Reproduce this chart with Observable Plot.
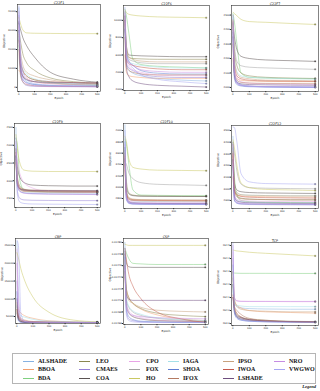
<!DOCTYPE html>
<html><head><meta charset="utf-8">
<script src="https://cdn.jsdelivr.net/npm/d3@7"></script>
<script src="https://cdn.jsdelivr.net/npm/@observablehq/plot@0.6"></script>
<style>
body{margin:0;background:#fff;}
#root{position:relative;width:320px;height:391px;overflow:hidden;background:#fff;}
#legend{position:absolute;left:12px;top:353px;width:304px;height:31px;border:0.6px solid #b5b5b5;box-sizing:border-box;}
.sw{position:absolute;height:0;border-top:1px solid;width:11px;}
.lt{position:absolute;font:bold 6px "Liberation Serif",serif;color:#111;white-space:nowrap;line-height:6px;}
#legtitle{position:absolute;right:4px;top:384px;font:italic bold 4.5px "Liberation Serif",serif;color:#111;}
</style></head><body><div id="root"><div id="legend"></div><div id="legtitle">Legend</div></div>
<script>
const algorithms = ["ALSHADE","BBOA","BDA","LEO","CMAES","COA","CPO","FOX","HO","IAGA","SHOA","IFOX","IPSO","IWOA","LSHADE","NRO","VWGWO"];
const colors = ["#86b2e2","#f2a06e","#7fd07f","#8a8650","#9580d8","#5a5252","#e8a4e6","#a2a2a2","#c9c862","#a4e0e8","#5f7ed2","#b47a62","#c8a27e","#c45a4c","#6e4e7e","#c68ce2","#a6a6f2"];
const epochs = [1, 10, 25, 50, 100, 200, 350, 500];
const xTicks = [0, 100, 200, 300, 400, 500];
const titles = ["C22F1","C22F6","C22F7","C22F9","C22F10","C22F12","CBP","CSP","TCP"];

const ticksF1 = [0, 10000, 20000, 30000, 40000];
const ticksF6 = [2000, 4000, 6000, 8000, 10000];
const ticksF7 = [2000, 2100, 2200, 2300, 2400, 2500];
const ticksF9 = [2500, 3000, 3500, 4000, 4500];
const ticksF10 = [2800, 3000, 3200, 3400, 3600, 3800, 4000];
const ticksF12 = [2900, 3000, 3100, 3200, 3300, 3400, 3500];
const ticksCBP = [50000, 100000, 150000, 200000, 250000];
const ticksCSP = [0.01266, 0.01268, 0.0127, 0.01272, 0.01274, 0.01276, 0.01278, 0.0128];
const ticksTCP = [263.9, 264.0, 264.1, 264.2, 264.3, 264.4, 264.5];

// rows follow the order of `algorithms`; columns follow `epochs`
const C22F1 = [
[42000,15000,6000,3000,1500,800,500,400],
[9000,8000,6000,4500,3000,2000,1500,1200],
[22000,14000,9000,6000,4000,2500,1500,1000],
[30000,25000,18000,13000,9000,5000,3000,2200],
[38000,10000,3000,1000,500,400,350,300],
[34000,31000,26500,22000,16000,8000,4300,2700],
[32000,18000,9000,5000,3000,2000,1500,1300],
[27000,12000,6000,4000,3000,2200,1800,1500],
[37000,34000,30500,28800,28600,28500,28400,28400],
[26000,16000,10000,7000,4500,3000,2200,1600],
[30000,9000,4000,2500,1500,1000,800,700],
[20000,7000,3000,1500,900,600,500,400],
[28000,20000,12000,8000,6000,4000,2500,1800],
[25000,15000,9000,6000,4000,3000,2500,2300],
[35000,12000,6000,4000,3000,2600,2400,2300],
[40000,14000,5000,2000,900,500,400,350],
[43000,20000,8000,4000,2000,1200,900,800]];
const C22F6 = [
[9500,5000,4300,3900,3600,3300,3100,3000],
[6000,4000,3600,3500,3400,3300,3300,3300],
[11300,10500,8500,5500,4900,4700,4600,4500],
[10500,6500,5700,5600,5550,5500,5500,5500],
[10500,5000,4500,4200,3800,3500,3400,3400],
[11000,7000,6000,5950,5900,5850,5800,5800],
[10000,5500,4700,4300,4000,3700,3600,3600],
[10000,6500,5500,5300,5100,5000,5000,5000],
[11200,10900,10700,10600,10500,10400,10350,10300],
[9000,6000,5200,5000,4800,4600,4500,4500],
[10000,6200,5300,4800,4200,3900,3800,3800],
[8000,4800,4200,4000,3800,3700,3700,3700],
[10500,7000,5800,5500,5300,5200,5200,5200],
[10000,5500,5000,4800,4600,4400,4300,4300],
[9000,4500,3500,3000,2700,2500,2400,2300],
[10800,6000,5200,4800,4300,4100,4000,4000],
[11500,5800,5000,4500,3700,3200,2900,2700]];
const C22F7 = [
[2420,2100,2040,2020,2010,2005,2003,2002],
[2200,2100,2060,2050,2045,2042,2040,2040],
[2510,2450,2300,2100,2070,2065,2062,2060],
[2450,2250,2150,2100,2080,2070,2065,2062],
[2400,2080,2030,2015,2008,2005,2003,2002],
[2440,2350,2260,2215,2200,2190,2185,2180],
[2430,2150,2070,2040,2030,2025,2022,2020],
[2500,2300,2180,2150,2140,2135,2130,2125],
[2520,2510,2495,2470,2455,2450,2442,2435],
[2480,2200,2110,2080,2070,2065,2060,2058],
[2380,2060,2020,2010,2005,2003,2002,2001],
[2300,2100,2050,2035,2030,2028,2027,2026],
[2470,2200,2100,2070,2060,2050,2048,2045],
[2460,2150,2080,2060,2050,2045,2043,2042],
[2350,2080,2035,2025,2020,2018,2016,2015],
[2450,2100,2030,2015,2010,2006,2004,2003],
[2500,2120,2040,2015,2008,2004,2002,2001]];
const C22F9 = [
[4500,3000,2750,2700,2680,2670,2665,2660],
[3600,2900,2750,2700,2690,2680,2675,2670],
[4200,4000,3000,2750,2700,2690,2680,2680],
[3700,3100,2850,2760,2720,2700,2690,2690],
[3800,2700,2500,2460,2450,2445,2440,2440],
[3900,3400,3100,2950,2880,2860,2850,2850],
[3800,3500,3200,2950,2800,2700,2680,2670],
[3900,3000,2800,2740,2720,2710,2705,2700],
[4300,3900,3500,3300,3270,3260,3260,3260],
[4000,2950,2780,2730,2710,2700,2700,2700],
[3700,2850,2700,2660,2640,2630,2625,2620],
[3500,2900,2760,2720,2700,2690,2685,2680],
[3900,3050,2820,2760,2740,2730,2725,2720],
[3800,2950,2790,2740,2720,2710,2705,2700],
[3700,2900,2770,2740,2730,2725,2720,2720],
[4100,3000,2700,2650,2630,2620,2615,2610],
[4200,2600,2400,2360,2345,2340,2335,2330]];
const C22F10 = [
[4100,2900,2750,2730,2720,2715,2712,2710],
[3300,2900,2800,2780,2770,2765,2762,2760],
[3850,3750,3400,2950,2860,2855,2850,2850],
[3650,3100,2900,2860,2845,2840,2838,2836],
[3600,2780,2720,2705,2700,2698,2696,2695],
[3700,3000,2880,2850,2840,2838,2836,2835],
[3500,2850,2760,2740,2735,2732,2730,2730],
[3450,3400,3250,3150,3080,3050,3040,3030],
[3900,3800,3500,3350,3320,3300,3295,3290],
[3700,3000,2800,2760,2750,2745,2742,2740],
[3800,2800,2720,2705,2700,2698,2697,2696],
[3400,2900,2800,2780,2775,2772,2770,2770],
[3600,2950,2820,2790,2780,2775,2772,2770],
[3550,2900,2780,2765,2760,2758,2756,2755],
[3500,2850,2740,2720,2715,2712,2710,2710],
[3750,2820,2730,2715,2710,2707,2705,2705],
[4000,2800,2710,2700,2697,2695,2694,2693]];
const C22F12 = [
[3450,2950,2900,2890,2885,2882,2880,2880],
[3100,2980,2950,2940,2935,2932,2930,2930],
[3300,3100,2950,2900,2890,2885,2882,2880],
[3350,3000,2940,2920,2912,2908,2905,2905],
[3200,2900,2875,2868,2865,2864,2863,2862],
[3400,3050,2990,2975,2968,2964,2962,2960],
[3300,2950,2910,2900,2895,2892,2890,2890],
[3380,3300,3150,3040,3010,3005,3002,3000],
[3420,3350,3200,3050,3010,2995,2990,2985],
[3350,3000,2960,2950,2945,2942,2940,2940],
[3250,2900,2880,2872,2870,2868,2867,2866],
[3280,2980,2930,2915,2910,2907,2905,2905],
[3320,3020,2970,2950,2945,2942,2940,2940],
[3300,2990,2950,2935,2928,2924,2922,2920],
[3250,2930,2895,2885,2880,2877,2875,2875],
[3380,2920,2885,2875,2871,2869,2868,2868],
[3530,3525,3400,3130,3060,3045,3042,3040]];
const CBP = [
[262000,120000,40000,34000,33500,33200,33100,33000],
[90000,70000,60000,52000,45000,38000,35000,34000],
[70000,45000,38000,35000,34000,33500,33200,33000],
[80000,50000,40000,36000,34500,33600,33200,33000],
[150000,40000,34000,33300,33100,33000,33000,33000],
[60000,42000,36000,34500,33800,33400,33200,33100],
[240000,100000,45000,38000,35000,34000,33500,33200],
[75000,48000,39000,36000,34500,33700,33300,33100],
[230000,215000,185000,150000,105000,62000,40000,35000],
[80000,60000,52000,48000,42000,37000,35000,34000],
[120000,38000,34000,33300,33100,33000,33000,33000],
[65000,45000,38000,35000,34000,33400,33200,33000],
[85000,55000,45000,40000,36000,34000,33400,33100],
[70000,50000,42000,37000,35000,33800,33300,33100],
[100000,45000,36000,34000,33400,33200,33100,33000],
[200000,70000,40000,36000,34000,33500,33200,33000],
[265000,250000,60000,36000,34000,33500,33200,33000]];
const CSP = [
[0.012800,0.012700,0.012680,0.012672,0.012668,0.012665,0.012664,0.012663],
[0.012740,0.012720,0.012705,0.012695,0.012685,0.012675,0.012668,0.012665],
[0.012790,0.012782,0.012772,0.012764,0.012763,0.012762,0.012762,0.012762],
[0.012780,0.012720,0.012705,0.012695,0.012686,0.012678,0.012674,0.012672],
[0.012780,0.012680,0.012668,0.012665,0.012663,0.012662,0.012662,0.012662],
[0.012785,0.012765,0.012758,0.012757,0.012757,0.012757,0.012757,0.012757],
[0.012770,0.012695,0.012682,0.012675,0.012670,0.012666,0.012664,0.012663],
[0.012760,0.012700,0.012688,0.012680,0.012674,0.012669,0.012666,0.012664],
[0.012797,0.012796,0.012795,0.012795,0.012795,0.012795,0.012795,0.012795],
[0.012765,0.012705,0.012690,0.012682,0.012676,0.012670,0.012667,0.012665],
[0.012775,0.012685,0.012672,0.012667,0.012664,0.012663,0.012662,0.012662],
[0.012750,0.012690,0.012678,0.012672,0.012668,0.012665,0.012664,0.012663],
[0.012770,0.012715,0.012700,0.012695,0.012688,0.012683,0.012681,0.012680],
[0.012790,0.012770,0.012745,0.012725,0.012703,0.012680,0.012668,0.012662],
[0.012760,0.012710,0.012702,0.012700,0.012700,0.012700,0.012700,0.012700],
[0.012760,0.012690,0.012678,0.012674,0.012672,0.012670,0.012669,0.012668],
[0.012790,0.012675,0.012665,0.012663,0.012662,0.012662,0.012662,0.012662]];
const TCP = [
[264.2,264.06,264.03,264.02,264.015,264.012,264.01,264.01],
[264.1,264.07,264.04,264.02,264.0,263.99,263.985,263.98],
[264.29,264.288,264.287,264.286,264.286,264.286,264.285,264.285],
[264.25,264.02,263.97,263.95,263.935,263.925,263.918,263.915],
[264.4,264.0,263.95,263.93,263.92,263.915,263.912,263.91],
[264.2,263.99,263.95,263.935,263.925,263.918,263.914,263.912],
[264.45,264.09,264.075,264.072,264.07,264.07,264.068,264.068],
[264.3,264.0,263.96,263.94,263.93,263.92,263.915,263.913],
[264.465,264.462,264.458,264.455,264.448,264.44,264.43,264.42],
[264.15,264.05,264.04,264.035,264.03,264.03,264.03,264.03],
[264.35,263.98,263.94,263.925,263.918,263.913,263.911,263.91],
[264.1,264.03,264.0,263.97,263.94,263.925,263.915,263.912],
[264.3,264.1,264.03,264.01,264.0,263.995,263.99,263.99],
[264.12,264.02,263.98,263.95,263.93,263.92,263.915,263.912],
[264.1,264.0,263.96,263.945,263.93,263.92,263.915,263.912],
[264.5,264.1,264.075,264.07,264.07,264.07,264.07,264.07],
[264.52,263.99,263.945,263.93,263.92,263.914,263.911,263.91]];

const root = document.getElementById("root");
const intFmt = d => String(d);

function panel(i, vals, domain, ticks, fmt, frame) {
  const [fx0, fx1, fy0, fy1] = frame;
  const mL = 18, mR = 2, mT = 7, mB = 13;
  const rows = [];
  algorithms.forEach((a, k) => vals[k].forEach((v, j) => rows.push({algo: a, epoch: epochs[j], value: v})));
  const last = rows.filter(d => d.epoch === epochs[epochs.length - 1]);
  const svg = Plot.plot({
    width: fx1 - fx0 + mL + mR, height: fy1 - fy0 + mT + mB,
    marginLeft: mL, marginRight: mR, marginTop: mT, marginBottom: mB,
    style: {background: "transparent", fontFamily: "'DejaVu Sans', sans-serif", fontSize: "2.4px", color: "#222", overflow: "visible"},
    x: {domain: [-8, 520]},
    y: {domain},
    color: {domain: algorithms, range: colors},
    marks: [
      Plot.axisX({ticks: xTicks, tickSize: 1.2, tickPadding: 0.6, label: null, tickFormat: intFmt}),
      Plot.axisY({ticks, tickSize: 1.2, tickPadding: 0.6, label: null, tickFormat: fmt}),
      Plot.line(rows, {x: "epoch", y: "value", z: "algo", stroke: "algo", curve: "monotone-x", strokeWidth: 0.6, strokeOpacity: 0.85, clip: true}),
      Plot.dot(last, {x: "epoch", y: "value", stroke: "#444", fill: "algo", r: 0.7, strokeWidth: 0.3, symbol: "square"}),
      Plot.frame({stroke: "#333", strokeWidth: 0.6}),
      Plot.text([titles[i]], {text: d => d, frameAnchor: "top", dy: -1, lineAnchor: "bottom", fontSize: 3.3, fill: "#111"}),
      Plot.text(["Epoch"], {text: d => d, frameAnchor: "bottom", dy: 5.5, lineAnchor: "top", fontSize: 2.9, fill: "#111"}),
      Plot.text(["Objective"], {text: d => d, frameAnchor: "left", dx: -13.5, rotate: -90, fontSize: 2.9, fill: "#111"})
    ]
  });
  svg.style.position = "absolute";
  svg.style.left = (fx0 - mL) + "px";
  svg.style.top = (fy0 - mT) + "px";
  svg.style.maxWidth = "none";
  root.appendChild(svg);
}

panel(0, C22F1, [-2200, 43800], ticksF1, intFmt, [17, 100, 4, 91]);
panel(1, C22F6, [1900, 11714], ticksF6, intFmt, [123, 209, 5, 90]);
panel(2, C22F7, [1972, 2566], ticksF7, intFmt, [231, 318, 5, 91]);
panel(3, C22F9, [2246, 4613], ticksF9, intFmt, [14, 100, 123, 207]);
panel(4, C22F10, [2623, 4124], ticksF10, intFmt, [123, 209, 123, 208]);
panel(5, C22F12, [2831, 3543], ticksF12, intFmt, [231, 318, 125, 208]);
panel(6, CBP, [30300, 269700], ticksCBP, intFmt, [15, 100, 238, 323]);
panel(7, CSP, [0.0126583, 0.0128069], ticksCSP, d3.format(".5f"), [123, 208, 238, 324]);
panel(8, TCP, [263.885, 264.523], ticksTCP, d3.format(".1f"), [231, 318, 242, 325]);

// legend (column-major, 3 rows)
const legend = document.getElementById("legend");
const colX = [[22, 37], [78, 95], [128, 145], [167, 182], [222, 237], [273, 288]];
const rowY = [360, 368.5, 377];
algorithms.forEach((a, k) => {
  const c = Math.floor(k / 3), r = k % 3;
  const sw = document.createElement("div");
  sw.className = "sw";
  sw.style.left = (colX[c][0] - 12) + "px";
  sw.style.top = (rowY[r] - 353 - 0.5) + "px";
  sw.style.borderTopColor = colors[k];
  legend.appendChild(sw);
  const t = document.createElement("div");
  t.className = "lt";
  t.textContent = a;
  t.style.left = (colX[c][1] - 12) + "px";
  t.style.top = (rowY[r] - 353 - 3.3) + "px";
  legend.appendChild(t);
});
</script></body></html>
